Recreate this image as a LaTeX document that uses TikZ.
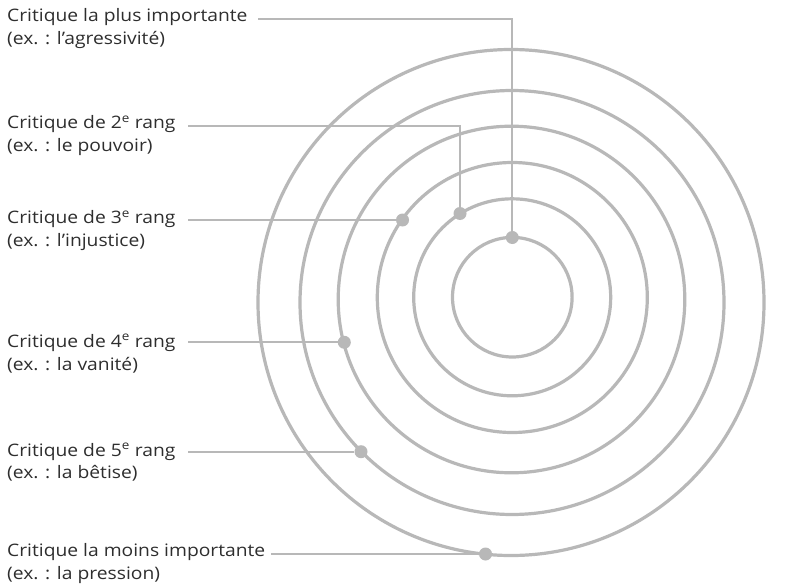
\documentclass[tikz,border=0pt]{standalone}
\usepackage{fontspec}
\setmainfont{Open Sans}[FakeStretch=1.12]
\definecolor{ring}{HTML}{B8B8B8}
\definecolor{ink}{HTML}{2E2E2E}
\begin{document}
\begin{tikzpicture}[x=1pt,y=-1pt,
  ringline/.style={draw=ring,line width=3.2pt},
  link/.style={draw=ring,line width=2pt},
  dot/.style={circle,fill=ring,minimum size=13pt,inner sep=0pt},
  lbl/.style={anchor=base west,inner sep=0pt,text=ink,font=\fontsize{17.2}{20}\selectfont}]
\useasboundingbox[fill=white] (0,0) rectangle (800,588);
% rings
\draw[ringline] (512.3,297.2) circle (59.8);
\draw[ringline] (512.2,297.3) circle (98.5);
\draw[ringline] (512.3,297.5) circle (135);
\draw[ringline] (511.5,299.5) circle (173.3);
\draw[ringline] (512,302.5) circle (212);
\draw[ringline] (511,302.5) circle (253);
% dots
\node[dot] (d1) at (512.3,237.5) {};
\node[dot] (d2) at (460,213.5) {};
\node[dot] (d3) at (402.5,220) {};
\node[dot] (d4) at (344.3,342.3) {};
\node[dot] (d5) at (361,451.7) {};
\node[dot] (d6) at (485.5,554) {};
% line starts
\coordinate (s1) at (258,19);
\coordinate (s2) at (188,126);
\coordinate (s3) at (188,220);
\coordinate (s4) at (188,342.3);
\coordinate (s5) at (188,451.7);
\coordinate (s6) at (271,554);
% connectors
\draw[link] (s1) -| (d1);
\draw[link] (s2) -| (d2);
\draw[link] (s3) -- (d3);
\draw[link] (s4) -- (d4);
\draw[link] (s5) -- (d5);
\draw[link] (s6) -- (d6);
% labels
\node[lbl] (t1) at (7,22) {Critique la plus importante};
\node[lbl] (t1x) at (7,44.5) {(ex. : l’agressivité)};
\node[lbl] (t2) at (7,128.5) {Critique de 2\textsuperscript{e} rang};
\node[lbl] (t2x) at (7,151.5) {(ex. : le pouvoir)};
\node[lbl] (t3) at (7,223.5) {Critique de 3\textsuperscript{e} rang};
\node[lbl] (t3x) at (7,246.5) {(ex. : l’injustice)};
\node[lbl] (t4) at (7,347) {Critique de 4\textsuperscript{e} rang};
\node[lbl] (t4x) at (7,370) {(ex. : la vanité)};
\node[lbl] (t5) at (7,456) {Critique de 5\textsuperscript{e} rang};
\node[lbl] (t5x) at (7,478.5) {(ex. : la bêtise)};
\node[lbl] (t6) at (7,556) {Critique la moins importante};
\node[lbl] (t6x) at (7,579) {(ex. : la pression)};
\end{tikzpicture}
\end{document}
